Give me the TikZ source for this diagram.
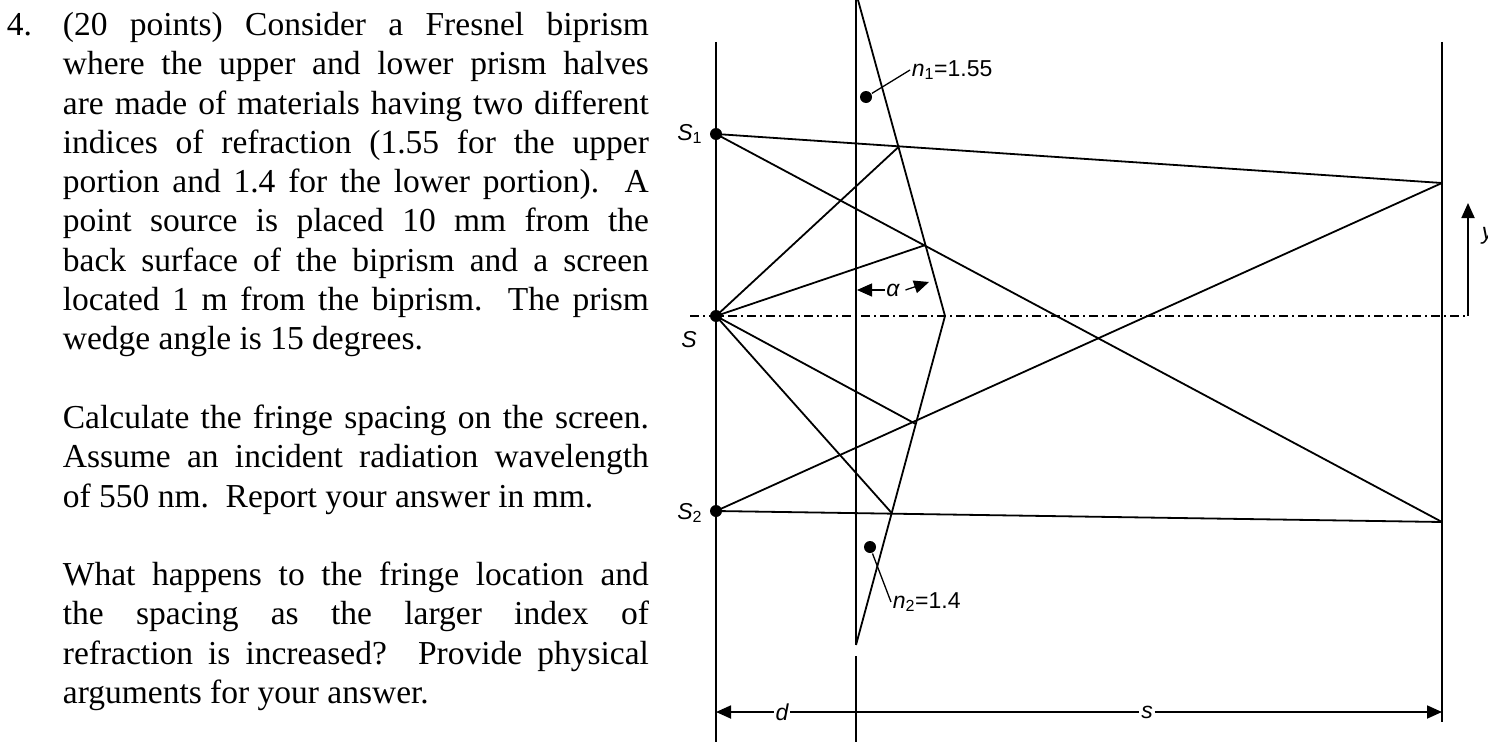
\documentclass[tikz,border=0pt]{standalone}
\usepackage{fontspec}
\setmainfont{Liberation Serif}
\newfontfamily\lsans{Liberation Sans}
\usetikzlibrary{arrows.meta}
\begin{document}
\begin{tikzpicture}[x=1pt,y=-1pt,line width=1.8pt,
  lab/.style={font=\lsans\fontsize{23}{26}\selectfont,inner sep=1pt},
  dotc/.style={circle,fill=black,inner sep=0pt,minimum size=12pt},
  arr/.style={-{Triangle[length=15pt,width=13pt]}}]
\useasboundingbox (0,0) rectangle (1488,752);
% text
\node[anchor=north west,inner sep=0pt] (num) at (6,7) {\fontsize{33.5}{39.3}\selectfont\strut 4.};
\node[anchor=north west,inner sep=0pt,text width=586pt,align=justify] (txt) at (62,7) {\fontsize{33.5}{39.3}\selectfont\strut
(20 points) Consider a Fresnel biprism\linebreak where the upper and lower prism halves\linebreak are made of materials having two different\linebreak indices of refraction (1.55 for the upper\linebreak portion and 1.4 for the lower portion).\ \ A\linebreak point source is placed 10 mm from the\linebreak back surface of the biprism and a screen\linebreak located 1 m from the biprism.\ \ The prism\linebreak wedge angle is 15 degrees.\par\vspace{39.3pt}
Calculate the fringe spacing on the screen.\linebreak Assume an incident radiation wavelength\linebreak of 550 nm.\ \ Report your answer in mm.\par\vspace{39.3pt}
What happens to the fringe location and\linebreak the spacing as the larger index of\linebreak refraction is increased? Provide physical\linebreak arguments for your answer.\par};
% coordinates
\coordinate (L0) at (716,42); \coordinate (L1) at (716,742);
\coordinate (M0) at (856,0); \coordinate (M1) at (856,645);
\coordinate (M2) at (856,656); \coordinate (M3) at (856,742);
\coordinate (R0) at (1442,42); \coordinate (R1) at (1442,722);
\coordinate (PT) at (858,0); \coordinate (PA) at (945,316); \coordinate (PB) at (856,645);
\coordinate (S1) at (716,134); \coordinate (S) at (716,316); \coordinate (S2) at (716,511);
\coordinate (Y1) at (1442,183); \coordinate (Y2) at (1442,522);
\coordinate (A) at (898.5,147); \coordinate (B) at (925.5,245);
\coordinate (C) at (915.8,424); \coordinate (D) at (891.7,513);
\draw (L0) -- (L1); \draw (M0) -- (M1); \draw (M2) -- (M3); \draw (R0) -- (R1);
\draw (PT) -- (PA) -- (PB);
\draw[line width=1.3pt,dash pattern=on 9pt off 4pt on 2pt off 4pt] (690,316) coordinate (DL) -- (1468,316) coordinate (DR);
\draw[arr] (DR) -- (1468,203) coordinate (YT);
\node[lab,anchor=west] (ylab) at (1480,236) {\itshape y};
\draw (S1) -- (Y1); \draw (S1) -- (Y2); \draw (S2) -- (Y1); \draw (S2) -- (Y2);
\draw (S) -- (A); \draw (S) -- (B); \draw (S) -- (C); \draw (S) -- (D);
\node[dotc] (dS1) at (S1) {}; \node[dotc] (dS) at (S) {}; \node[dotc] (dS2) at (S2) {};
\node[lab,anchor=east] (lS1) at (704,134) {\itshape S\textsubscript{\upshape 1}};
\node[lab] (lS) at (689,340) {\itshape S};
\node[lab,anchor=east] (lS2) at (704,513) {\itshape S\textsubscript{\upshape 2}};
% n labels
\node[dotc] (d1) at (866,97) {};
\node[lab,anchor=west] (n1) at (910,70) {\itshape n\textsubscript{\upshape 1}\upshape =1.55};
\draw[line width=1.3pt] (d1) -- (n1.west);
\node[dotc] (d2) at (870,547) {};
\node[lab,anchor=west] (n2) at (891,602) {\itshape n\textsubscript{\upshape 2}\upshape =1.4};
\draw[line width=1.3pt] (d2) -- (n2.west);
% alpha
\node[lab] (al) at (893,290) {\itshape α};
\draw[arr,line width=1.3pt] (al.west) -- (857,290);
\draw[arr,line width=1.3pt] (al.east) ++(4,0) -- (929,282);
% dimensions
\node[lab,fill=white] (dl) at (782,712) {\itshape d};
\node[lab,fill=white] (sl) at (1147,712) {\itshape s};
\draw[arr] (dl.west) -- (716,712);
\draw (dl.east) -- (sl.west);
\draw[arr] (sl.east) -- (1442,712);
\end{tikzpicture}
\end{document}
